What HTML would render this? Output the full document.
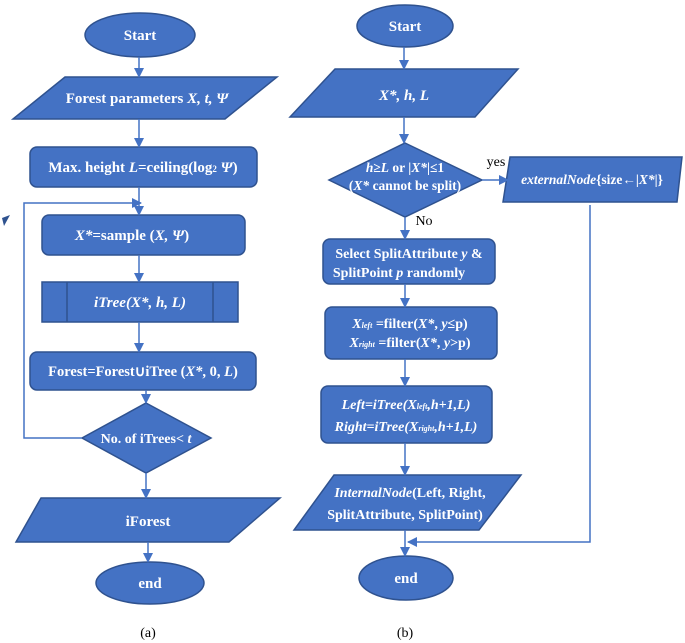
<!DOCTYPE html>
<html><head><meta charset="utf-8"><style>
html,body{margin:0;padding:0;background:#fff;}
svg{display:block;}
text{font-family:"Liberation Serif",serif;font-weight:bold;fill:#fff;}
</style></head><body>
<svg width="685" height="643" viewBox="0 0 685 643" xmlns="http://www.w3.org/2000/svg">
<defs>
<marker id="a" markerWidth="10" markerHeight="10" refX="9" refY="5" orient="auto" markerUnits="userSpaceOnUse">
<path d="M0,0 L10,5 L0,10 z" fill="#4472C4"/></marker>
</defs>
<g fill="#4472C4" stroke="#2F528F" stroke-width="1.5">
<ellipse cx="140" cy="35" rx="55" ry="22"/>
<polygon points="65,77 277,77 225,119 13,119"/>
<rect x="30" y="147" width="227" height="40" rx="7"/>
<rect x="42" y="215" width="203" height="40" rx="7"/>
<rect x="42" y="282" width="196" height="40"/>
<rect x="30" y="352" width="226" height="38" rx="7"/>
<polygon points="146,403 211,438 146,473 82,438"/>
<polygon points="41,498 280,498 229,542 16,542"/>
<ellipse cx="150" cy="583" rx="54" ry="21"/>
<ellipse cx="405" cy="26" rx="48" ry="21"/>
<polygon points="335,69 518,69 475,117 290,117"/>
<polygon points="405,143 482,180 405,217 329,180"/>
<polygon points="510,157 682,157 677,202 503,202"/>
<rect x="323" y="239" width="172" height="45" rx="7"/>
<rect x="325" y="307" width="172" height="52" rx="7"/>
<rect x="321" y="386" width="171" height="57" rx="7"/>
<polygon points="334,475 521,475 479,530 294,530"/>
<ellipse cx="406" cy="578" rx="47" ry="22"/>
</g>
<g stroke="#2F528F" stroke-width="1.5"><line x1="67" y1="282" x2="67" y2="322"/><line x1="213" y1="282" x2="213" y2="322"/></g>
<g stroke="#4472C4" stroke-width="1.5" fill="none">
<line x1="139" y1="57" x2="139" y2="77" marker-end="url(#a)"/>
<line x1="139" y1="119" x2="139" y2="147" marker-end="url(#a)"/>
<line x1="139" y1="187" x2="139" y2="215" marker-end="url(#a)"/>
<polyline points="82,438 24,438 24,203 141,203" marker-end="url(#a)"/>
<line x1="139" y1="255" x2="139" y2="282" marker-end="url(#a)"/>
<line x1="139" y1="322" x2="139" y2="352" marker-end="url(#a)"/>
<line x1="146" y1="390" x2="146" y2="403" marker-end="url(#a)"/>
<line x1="146" y1="473" x2="146" y2="498" marker-end="url(#a)"/>
<line x1="148" y1="542" x2="148" y2="562" marker-end="url(#a)"/>
<line x1="404" y1="47" x2="404" y2="69" marker-end="url(#a)"/>
<line x1="404" y1="117" x2="404" y2="143" marker-end="url(#a)"/>
<line x1="482" y1="180" x2="508" y2="180" marker-end="url(#a)"/>
<line x1="405" y1="217" x2="405" y2="239" marker-end="url(#a)"/>
<line x1="405" y1="284" x2="405" y2="307" marker-end="url(#a)"/>
<line x1="405" y1="359" x2="405" y2="386" marker-end="url(#a)"/>
<line x1="405" y1="443" x2="405" y2="475" marker-end="url(#a)"/>
<line x1="405" y1="530" x2="405" y2="556" marker-end="url(#a)"/>
<polyline points="590,205 590,542 408,542" marker-end="url(#a)"/>
</g>
<path d="M2,218 L10,215 L4,226 z" fill="#2F528F"/>
<g font-size="15" text-anchor="middle">
<text x="140" y="40">Start</text>
<text x="147" y="103">Forest parameters <tspan font-style="italic">X, t,  Ψ</tspan></text>
<text x="143" y="172">Max. height <tspan font-style="italic">L</tspan>=ceiling(log<tspan font-size="9">2</tspan> <tspan font-style="italic">Ψ</tspan>)</text>
<text x="132" y="240"><tspan font-style="italic">X*</tspan>=sample (<tspan font-style="italic">X,  Ψ</tspan>)</text>
<text x="140" y="307" font-style="italic">iTree(X*, h, L)</text>
<text x="143" y="376" font-size="14.5">Forest=Forest∪iTree (<tspan font-style="italic">X*</tspan>, 0, <tspan font-style="italic">L</tspan>)</text>
<text x="146" y="443" font-size="14">No. of iTrees&lt; <tspan font-style="italic">t</tspan></text>
<text x="148" y="526">iForest</text>
<text x="150" y="588">end</text>
<text x="405" y="31">Start</text>
<text x="404" y="100" font-style="italic">X*, h, L</text>
<text x="405" y="172" font-size="13.5"><tspan font-style="italic">h</tspan>≥<tspan font-style="italic">L</tspan> or |<tspan font-style="italic">X*</tspan>|≤1</text>
<text x="405" y="190" font-size="13.5">(<tspan font-style="italic">X*</tspan> cannot be split)</text>
<text x="592" y="184" font-size="13.5" font-weight="normal"><tspan font-style="italic">externalNode</tspan>{size←|<tspan font-style="italic">X*</tspan>|}</text>
<text x="409" y="258" font-size="14" font-weight="normal">Select SplitAttribute <tspan font-style="italic">y</tspan> &amp;</text>
<text x="399" y="277" font-size="14" font-weight="normal">SplitPoint <tspan font-style="italic">p</tspan> randomly</text>
<text x="410" y="328" font-size="14"><tspan font-style="italic">X<tspan font-size="8">left</tspan></tspan> =filter(<tspan font-style="italic">X*</tspan>, <tspan font-style="italic">y</tspan>≤p)</text>
<text x="410" y="347" font-size="14"><tspan font-style="italic">X<tspan font-size="8">right</tspan></tspan> =filter(<tspan font-style="italic">X*</tspan>, <tspan font-style="italic">y</tspan>&gt;p)</text>
<text x="406" y="409" font-size="14" font-style="italic" font-weight="normal">Left=iTree(X<tspan font-size="8">left</tspan>,h+1,L)</text>
<text x="406" y="431" font-size="14" font-style="italic" font-weight="normal">Right=iTree(X<tspan font-size="8">right</tspan>,h+1,L)</text>
<text x="410" y="497" font-size="14"><tspan font-style="italic">InternalNode</tspan>(Left, Right,</text>
<text x="405" y="519" font-size="14">SplitAttribute, SplitPoint)</text>
<text x="406" y="583">end</text>
</g>
<g font-size="14" text-anchor="middle" style="font-weight:normal">
<text x="496" y="166" style="fill:#000;font-weight:normal">yes</text>
<text x="424" y="225" style="fill:#000;font-weight:normal">No</text>
<text x="148" y="637" style="fill:#000;font-weight:normal">(a)</text>
<text x="405" y="637" style="fill:#000;font-weight:normal">(b)</text>
</g>
</svg>
</body></html>
